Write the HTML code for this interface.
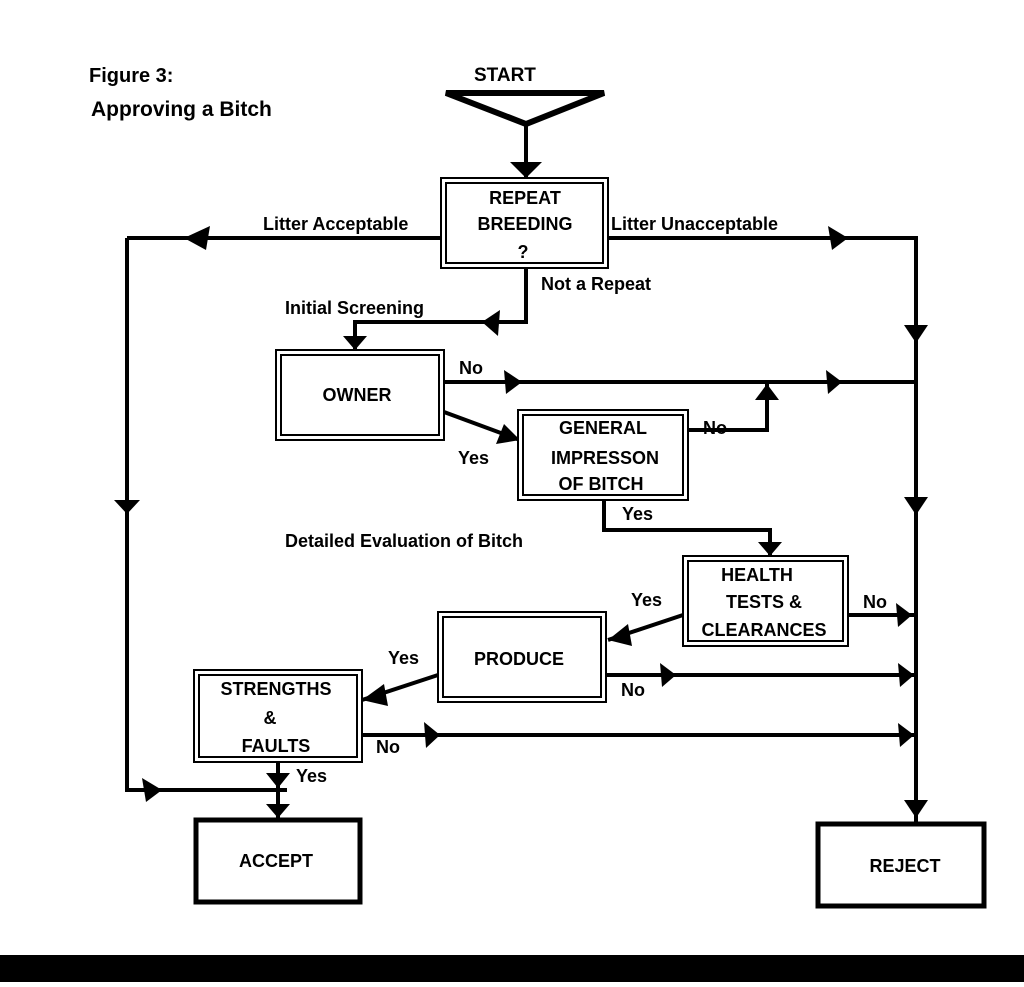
<!DOCTYPE html>
<html><head><meta charset="utf-8"><style>
body{margin:0;background:#fff;width:1024px;height:982px;overflow:hidden}
svg text{font-family:"Liberation Sans",Arial,sans-serif;font-weight:bold;fill:#000}
</style></head><body>
<svg width="1024" height="982" viewBox="0 0 1024 982" xmlns="http://www.w3.org/2000/svg">
<defs>
<marker id="a" viewBox="0 0 10 10" refX="10" refY="5" markerWidth="6" markerHeight="6" orient="auto" markerUnits="strokeWidth"><path d="M0,0 L10,5 L0,10 z"/></marker>
</defs>
<text x="89" y="82" font-size="20">Figure 3:</text>
<text x="91" y="116" font-size="21">Approving a Bitch</text>
<text x="474" y="81" font-size="19">START</text>
<path d="M446,93 L604,93 L526,124 Z" fill="none" stroke="#000" stroke-width="6" stroke-linejoin="miter"/>
<g stroke="#000" stroke-width="4" fill="none">
<line x1="526" y1="124" x2="526" y2="178"/>
<path d="M127,238 L441,238"/><path d="M127,238 L127,790 L287,790"/>
<path d="M608,238 L916,238 L916,822"/>
<path d="M526,268 L526,322 L355,322 L355,350"/>
<path d="M444,382 L916,382"/>
<line x1="444" y1="412" x2="520" y2="440"/>
<path d="M688,430 L767,430 L767,382"/>
<path d="M604,500 L604,530 L770,530 L770,556"/>
<line x1="848" y1="615" x2="916" y2="615"/>
<line x1="683" y1="615" x2="608" y2="640"/>
<line x1="606" y1="675" x2="916" y2="675"/>
<line x1="438" y1="675" x2="362" y2="700"/>
<line x1="362" y1="735" x2="916" y2="735"/>
<line x1="278" y1="762" x2="278" y2="818"/>
</g>
<g fill="#000">
<path d="M510,162 L542,162 L526,178 Z"/>
<path d="M184,238 L210,226 L206,250 Z"/>
<path d="M140,510 L114,510 L127,496 Z" transform="rotate(180 127 505)"/>
<path d="M162,790 L142,778 L146,802 Z"/>
<path d="M848,238 L828,226 L832,250 Z"/>
<path d="M904,325 L928,325 L916,343 Z"/>
<path d="M904,497 L928,497 L916,515 Z"/>
<path d="M904,800 L928,800 L916,818 Z"/>
<path d="M482,322 L500,310 L498,336 Z"/>
<path d="M343,336 L367,336 L355,350 Z"/>
<path d="M522,382 L504,370 L506,394 Z"/>
<path d="M842,382 L826,370 L828,394 Z"/>
<path d="M767,384 L755,400 L779,400 Z"/>
<path d="M520,440 L496,444 L504,424 Z"/>
<path d="M758,542 L782,542 L770,556 Z"/>
<path d="M912,615 L896,603 L898,627 Z"/>
<path d="M608,640 L628,624 L632,646 Z"/>
<path d="M676,675 L660,663 L662,687 Z"/>
<path d="M914,675 L898,663 L900,687 Z"/>
<path d="M362,700 L384,684 L388,706 Z"/>
<path d="M440,735 L424,722 L426,748 Z"/>
<path d="M914,735 L898,723 L900,747 Z"/>
<path d="M266,773 L290,773 L278,788 Z"/>
<path d="M266,804 L290,804 L278,818 Z"/>
</g>
<g fill="#fff" stroke="#000" stroke-width="2">
<rect x="441" y="178" width="167" height="90"/><rect x="446" y="183" width="157" height="80"/>
<rect x="276" y="350" width="168" height="90"/><rect x="281" y="355" width="158" height="80"/>
<rect x="518" y="410" width="170" height="90"/><rect x="523" y="415" width="160" height="80"/>
<rect x="683" y="556" width="165" height="90"/><rect x="688" y="561" width="155" height="80"/>
<rect x="438" y="612" width="168" height="90"/><rect x="443" y="617" width="158" height="80"/>
<rect x="194" y="670" width="168" height="92"/><rect x="199" y="675" width="158" height="82"/>
</g>
<rect x="196" y="820" width="164" height="82" fill="#fff" stroke="#000" stroke-width="5"/>
<rect x="818" y="824" width="166" height="82" fill="#fff" stroke="#000" stroke-width="5"/>
<g font-size="18" text-anchor="middle">
<text x="525" y="204">REPEAT</text><text x="525" y="230">BREEDING</text><text x="523" y="258">?</text>
<text x="357" y="401">OWNER</text>
<text x="603" y="434">GENERAL</text><text x="605" y="464">IMPRESSON</text><text x="601" y="490">OF BITCH</text>
<text x="757" y="581">HEALTH</text><text x="764" y="608">TESTS &amp;</text><text x="764" y="636">CLEARANCES</text>
<text x="519" y="665">PRODUCE</text>
<text x="276" y="695">STRENGTHS</text><text x="270" y="724">&amp;</text><text x="276" y="752">FAULTS</text>
<text x="276" y="867">ACCEPT</text>
<text x="905" y="872">REJECT</text>
</g>
<g font-size="18">
<text x="263" y="230">Litter Acceptable</text>
<text x="611" y="230">Litter Unacceptable</text>
<text x="541" y="290">Not a Repeat</text>
<text x="285" y="314">Initial Screening</text>
<text x="459" y="374">No</text>
<text x="458" y="464">Yes</text>
<text x="703" y="434">No</text>
<text x="622" y="520">Yes</text>
<text x="285" y="547">Detailed Evaluation of Bitch</text>
<text x="631" y="606">Yes</text>
<text x="863" y="608">No</text>
<text x="388" y="664">Yes</text>
<text x="621" y="696">No</text>
<text x="376" y="753">No</text>
<text x="296" y="782">Yes</text>
</g>
<rect x="0" y="955" width="1024" height="27" fill="#000"/>
</svg>
</body></html>
